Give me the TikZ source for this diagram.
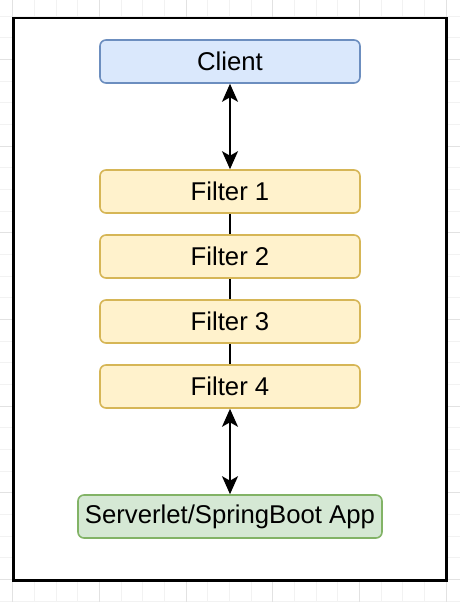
\documentclass[tikz,border=0pt]{standalone}
\usepackage{fontspec}
\setmainfont{Liberation Sans}
\usetikzlibrary{arrows.meta}
\definecolor{gridminor}{HTML}{F2F2F2}
\definecolor{gridmajor}{HTML}{E2E2E2}
\definecolor{blueF}{HTML}{DAE8FC}
\definecolor{blueD}{HTML}{6C8EBF}
\definecolor{yelF}{HTML}{FFF2CC}
\definecolor{yelD}{HTML}{D6B656}
\definecolor{grnF}{HTML}{D5E8D4}
\definecolor{grnD}{HTML}{82B366}
\tikzset{
  box/.style={rounded corners=6pt, line width=1.6pt, minimum height=43pt, inner sep=0pt,
    font=\fontsize{25.7}{28}\selectfont, anchor=center},
  clientbox/.style={box, fill=blueF, draw=blueD, minimum width=260pt},
  filterbox/.style={box, fill=yelF, draw=yelD, minimum width=260pt},
  appbox/.style={box, fill=grnF, draw=grnD, minimum width=304pt},
  biarrow/.style={line width=1.8pt, {Stealth[length=18pt,width=16pt,inset=4.5pt]}-{Stealth[length=18pt,width=16pt,inset=4.5pt]}},
  link/.style={line width=1.5pt},
  frame/.style={line width=2.5pt, draw=black, fill=white}
}
\begin{document}
\begin{tikzpicture}[x=1pt,y=-1pt]
\useasboundingbox (0,0) rectangle (460,602);
% grid
\foreach \k in {0,...,21} {
  \draw[gridminor, line width=0.8pt] ({12.6+21.667*\k},0) -- ({12.6+21.667*\k},602);
}
\foreach \k in {0,...,27} {
  \draw[gridminor, line width=0.8pt] (0,{16+21.667*\k}) -- (460,{16+21.667*\k});
}
\foreach \k in {0,...,5} {
  \draw[gridmajor, line width=0.8pt] ({12.6+86.667*\k},0) -- ({12.6+86.667*\k},602);
}
\foreach \k in {0,...,6} {
  \draw[gridmajor, line width=0.8pt] (0,{59.3+86.667*\k}) -- (460,{59.3+86.667*\k});
}
% frame
\draw[frame] (13.5,18) rectangle (446.5,580.5);
% nodes
\node[clientbox] (client) at (230,61.5) {Client};
\node[filterbox] (f1) at (230,191.5) {Filter 1};
\node[filterbox] (f2) at (230,256.5) {Filter 2};
\node[filterbox] (f3) at (230,321.5) {Filter 3};
\node[filterbox] (f4) at (230,386.5) {Filter 4};
\node[appbox] (app) at (230,516.5) {Serverlet/SpringBoot App};
% connectors
\draw[biarrow] (client.south) -- (f1.north);
\draw[link] (f1.south) -- (f2.north);
\draw[link] (f2.south) -- (f3.north);
\draw[link] (f3.south) -- (f4.north);
\draw[biarrow] (f4.south) -- (app.north);
\end{tikzpicture}
\end{document}
